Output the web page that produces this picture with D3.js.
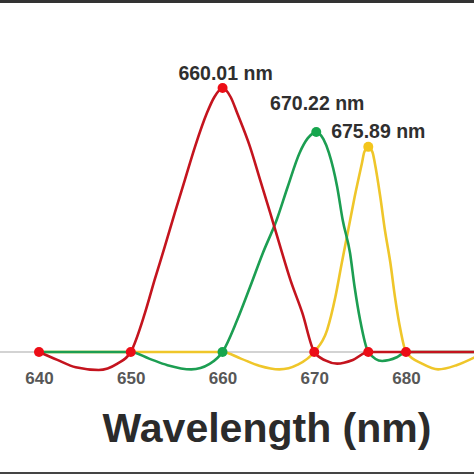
<!DOCTYPE html>
<html>
<head>
<meta charset="utf-8">
<script src="https://cdn.jsdelivr.net/npm/d3@7"></script>
<style>
  body { margin: 0; background: #fff; }
  svg { display: block; }
</style>
</head>
<body>
<div id="chart"></div>
<script>
// values (wavelength nm, relative intensity)
const redSeries = [
  [640, 0], [642, -0.03], [644, -0.058], [646.5, -0.068], [648.5, -0.045], [650, 0],
  [651.55, 0.148], [652.6, 0.273], [653.7, 0.398], [654.8, 0.527], [655.9, 0.652],
  [657, 0.777], [658.3, 0.905], [659.1, 0.965], [660.01, 1],
  [660.9, 0.965], [661.6, 0.905], [663, 0.777], [664.1, 0.652], [665.2, 0.527], [666.3, 0.398],
  [667.4, 0.273], [668.7, 0.148], [670, 0],
  [671.2, -0.032], [672.5, -0.044], [674.2, -0.03], [675.89, 0], [680, 0], [688, 0]
]
const greenSeries = [
  [640, 0], [650, 0], [652, -0.025], [654, -0.05], [656.6, -0.066], [658.6, -0.045], [660, 0],
  [661.6, 0.121], [663, 0.246], [664.4, 0.375], [665.9, 0.5], [667.1, 0.625],
  [668.4, 0.754], [669.3, 0.81], [670.22, 0.833], [671, 0.806],
  [671.6, 0.754], [672.5, 0.625], [673.1, 0.5], [673.9, 0.375], [674.4, 0.246],
  [675, 0.121], [675.89, 0], [677.4, -0.034], [679, -0.02], [680, 0], [688, 0]
]
const yellowSeries = [
  [640, 0], [660, 0], [662, -0.025], [664, -0.052], [666.2, -0.066], [668.2, -0.048], [670, 0],
  [671.4, 0.083], [672.3, 0.208], [673, 0.337], [673.7, 0.462], [674.4, 0.587],
  [675.2, 0.716], [675.45, 0.757], [675.89, 0.777], [676.35, 0.757],
  [676.6, 0.716], [677.2, 0.587], [677.7, 0.462], [678.3, 0.337], [678.8, 0.208],
  [679.4, 0.083], [680, 0], [681.8, -0.045], [683.5, -0.066], [685.5, -0.05], [687.6, -0.018]
]
const redDots = [[640, 0], [650, 0], [660.01, 1], [670, 0], [675.89, 0], [680, 0]]
const greenDots = [[660, 0], [670.22, 0.833]]
const yellowDots = [[675.89, 0.777]]
const peakLabels = ["660.01 nm", "670.22 nm", "675.89 nm"]
const xTicks = [640, 650, 660, 670, 680]

const width = 474
const height = 474

const svg = d3.select("#chart")
  .append("svg")
  .attr("width", width)
  .attr("height", height)

const x = d3.scaleLinear()
  .domain([640, 680])
  .range([39, 406])
const y = d3.scaleLinear()
  .domain([0, 1])
  .range([352, 88])

// frame lines top and bottom
svg.append("rect").attr("x", 0).attr("y", 0).attr("width", width).attr("height", 3).attr("fill", "#333")
svg.append("rect").attr("x", 0).attr("y", 472).attr("width", width).attr("height", 2).attr("fill", "#444")

// baseline
svg.append("line")
  .attr("x1", 0).attr("x2", width)
  .attr("y1", y(0)).attr("y2", y(0))
  .attr("stroke", "#c4c4c4")
  .attr("stroke-width", 1.5)

const xAxis = svg.append("g")
  .attr("transform", `translate(0, ${y(0)})`)
  .call(d3.axisBottom(x).tickValues(xTicks).tickSize(0).tickPadding(20).tickFormat(d3.format("d")))
xAxis.select(".domain").remove()
xAxis.selectAll("text")
  .attr("fill", "#575757")
  .style("font-family", "'Liberation Sans', Arial, sans-serif")
  .style("font-weight", "bold")
  .style("font-size", "17px")

svg.append("text")
  .attr("x", 267)
  .attr("y", 442)
  .attr("text-anchor", "middle")
  .attr("fill", "#2b2b2b")
  .style("font-family", "'Liberation Sans', Arial, sans-serif")
  .style("font-weight", "bold")
  .style("font-size", "41px")
  .text("Wavelength (nm)")

const line = d3.line()
  .x(d => x(d[0]))
  .y(d => y(d[1]))
  .curve(d3.curveMonotoneX)

const series = [
  {data: yellowSeries, color: "#efc62a"},
  {data: greenSeries, color: "#1c9e52"},
  {data: redSeries, color: "#c4141e"}
]
series.forEach(s => {
  svg.append("path")
    .datum(s.data)
    .attr("fill", "none")
    .attr("stroke", s.color)
    .attr("stroke-width", 2.6)
    .attr("d", line)
})

const dotSets = [
  {data: yellowDots, color: "#f3c51c"},
  {data: greenDots, color: "#16a64e"},
  {data: redDots, color: "#ec0d16"}
]
dotSets.forEach(s => {
  svg.selectAll(null)
    .data(s.data)
    .enter().append("circle")
    .attr("cx", d => x(d[0]))
    .attr("cy", d => y(d[1]))
    .attr("r", 5)
    .attr("fill", s.color)
})

// peak labels
const labelPos = [
  {p: redDots[2], dx: 3, dy: -8},
  {p: greenDots[1], dx: 1, dy: -22},
  {p: yellowDots[0], dx: 10, dy: -9}
]
svg.selectAll(".peakLabel")
  .data(labelPos)
  .enter().append("text")
  .attr("class", "peakLabel")
  .attr("x", d => x(d.p[0]) + d.dx)
  .attr("y", d => y(d.p[1]) + d.dy)
  .attr("text-anchor", "middle")
  .attr("fill", "#2f2f2f")
  .style("font-family", "'Liberation Sans', Arial, sans-serif")
  .style("font-weight", "bold")
  .style("font-size", "19.5px")
  .text((d, i) => peakLabels[i])
</script>
</body>
</html>
